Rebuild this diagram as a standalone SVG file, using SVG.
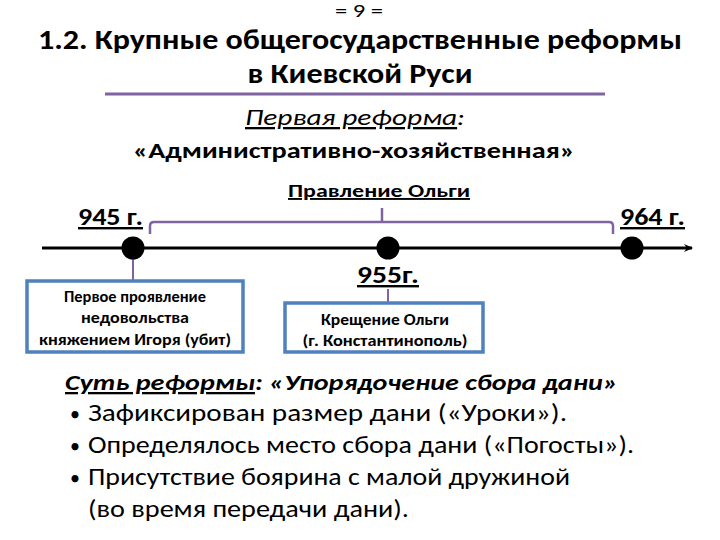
<svg xmlns="http://www.w3.org/2000/svg" width="720" height="540" viewBox="0 0 720 540">
<defs>
<style>
text{font-family:Carlito,"Open Sans","Noto Sans",sans-serif;fill:#000}
.b{font-weight:bold}
.i{font-style:italic}
.u{text-decoration:underline}
.box{fill:#fff;stroke:#4f81bd;stroke-width:3.5}
.pur{fill:none;stroke:#8064a2;stroke-width:2.5}
.dot{fill:#000}
</style>
<marker id="arr" markerWidth="10" markerHeight="10" refX="8" refY="5" orient="auto" markerUnits="userSpaceOnUse">
<path d="M0,1 L9,5 L0,9 L3,5 Z" fill="#000"/>
</marker>
</defs>
<rect width="720" height="540" fill="#fff"/>

<g id="header">
<text x="359" y="17" font-size="18" text-anchor="middle" textLength="48" lengthAdjust="spacingAndGlyphs">= 9 =</text>
<text x="360" y="49" font-size="28" class="b" text-anchor="middle" textLength="644" lengthAdjust="spacingAndGlyphs">1.2. Крупные общегосударственные реформы</text>
<text x="360" y="83" font-size="28" class="b" text-anchor="middle" textLength="225" lengthAdjust="spacingAndGlyphs">в Киевской Руси</text>
<line x1="105" y1="94" x2="605" y2="94" stroke="#8064a2" stroke-width="3"/>
<text x="245" y="125" font-size="23" class="i" textLength="220" lengthAdjust="spacingAndGlyphs"><tspan class="u">Первая реформа</tspan>:</text>
<text x="354" y="158" font-size="23" class="b" text-anchor="middle" textLength="442" lengthAdjust="spacingAndGlyphs">«Административно-хозяйственная»</text>
</g>

<g id="connectors">
<line x1="42" y1="248" x2="692" y2="248" stroke="#000" stroke-width="3" marker-end="url(#arr)"/>
<path class="pur" d="M150,234 V226 Q150,222 154,222 H609 Q613,222 613,226 V234"/>
<path class="pur" d="M382,222 V208"/>
<line x1="133" y1="248" x2="133" y2="281" stroke="#8064a2" stroke-width="2"/>
<line x1="388" y1="289" x2="388" y2="303" stroke="#8064a2" stroke-width="2"/>
</g>

<g id="label-rule">
<text x="379" y="197" font-size="19" class="b u" text-anchor="middle" textLength="182" lengthAdjust="spacingAndGlyphs">Правление Ольги</text>
</g>

<g id="node-945">
<circle class="dot" cx="133" cy="248" r="11.5"/>
<text x="78" y="225" font-size="24" class="b u" textLength="65" lengthAdjust="spacingAndGlyphs">945 г.</text>
</g>

<g id="node-955">
<circle class="dot" cx="388" cy="248" r="11.5"/>
<text x="388" y="283" font-size="24" class="b u" text-anchor="middle" textLength="62" lengthAdjust="spacingAndGlyphs">955г.</text>
</g>

<g id="node-964">
<circle class="dot" cx="632" cy="248" r="11.5"/>
<text x="620" y="225" font-size="24" class="b u" textLength="65" lengthAdjust="spacingAndGlyphs">964 г.</text>
</g>

<g id="box-igor">
<rect class="box" x="27" y="281" width="216" height="71"/>
<text x="135" y="302" font-size="15.5" class="b" text-anchor="middle" textLength="142" lengthAdjust="spacingAndGlyphs">Первое проявление</text>
<text x="135" y="323" font-size="15.5" class="b" text-anchor="middle" textLength="108" lengthAdjust="spacingAndGlyphs">недовольства</text>
<text x="135" y="345" font-size="15.5" class="b" text-anchor="middle" textLength="192" lengthAdjust="spacingAndGlyphs">княжением Игоря (убит)</text>
</g>

<g id="box-olga">
<rect class="box" x="285" y="303" width="198" height="49"/>
<text x="385" y="325" font-size="15.5" class="b" text-anchor="middle" textLength="128" lengthAdjust="spacingAndGlyphs">Крещение Ольги</text>
<text x="385" y="346" font-size="15.5" class="b" text-anchor="middle" textLength="165" lengthAdjust="spacingAndGlyphs">(г. Константинополь)</text>
</g>

<g id="essence">
<text x="65" y="390" font-size="23" class="b i" textLength="553" lengthAdjust="spacingAndGlyphs"><tspan class="u">Суть реформы</tspan>: «Упорядочение сбора дани»</text>
<text x="70" y="421" font-size="20">•</text>
<text x="88" y="421" font-size="24" textLength="479" lengthAdjust="spacingAndGlyphs">Зафиксирован размер дани («Уроки»).</text>
<text x="70" y="453" font-size="20">•</text>
<text x="88" y="453" font-size="24" textLength="546" lengthAdjust="spacingAndGlyphs">Определялось место сбора дани («Погосты»).</text>
<text x="70" y="485" font-size="20">•</text>
<text x="88" y="485" font-size="24" textLength="482" lengthAdjust="spacingAndGlyphs">Присутствие боярина с малой дружиной</text>
<text x="88" y="517" font-size="24" textLength="321" lengthAdjust="spacingAndGlyphs">(во время передачи дани).</text>
</g>
</svg>
